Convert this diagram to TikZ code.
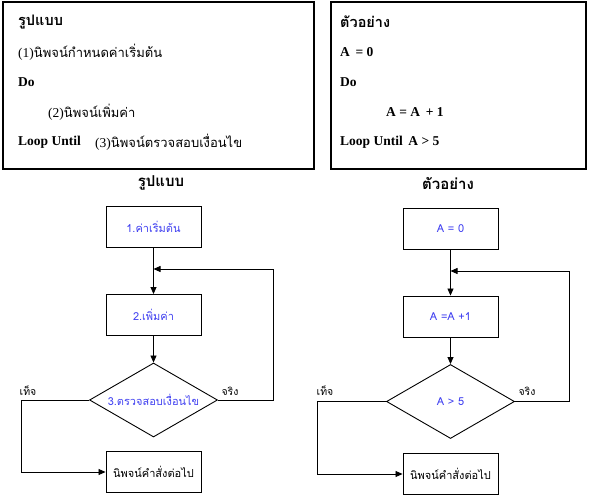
\documentclass[tikz,border=0pt]{standalone}
\usepackage{fontspec}
\setmainfont{Liberation Serif}
\newfontfamily\thai[Script=Thai]{Loma}
\usetikzlibrary{shapes.geometric,arrows.meta}
\definecolor{txtblue}{RGB}{64,64,240}
\newcommand{\thbig}{\thai\fontsize{13}{15}\selectfont}
\begin{document}
\begin{tikzpicture}[x=1pt,y=-1pt,
  panel/.style={draw,line width=1.2pt},
  conn/.style={draw,line width=0.8pt},
  arr/.style={conn,-{Triangle[length=7pt,width=6pt]}},
  box/.style={draw,line width=0.9pt,minimum width=95pt,minimum height=41pt,inner sep=0pt,
    font=\thai\fontsize{11}{13}\selectfont,text=txtblue},
  dec/.style={draw,line width=0.9pt,diamond,minimum width=128pt,minimum height=74pt,inner sep=0pt},
  dectxt/.style={font=\thai\fontsize{11}{13}\selectfont,text=txtblue,inner sep=0pt},
  code/.style={anchor=west,inner sep=0pt,font=\fontsize{13.5}{15}\selectfont},
  head/.style={anchor=west,inner sep=0pt,font=\thai\bfseries\fontsize{14.5}{16}\selectfont},
  title/.style={inner sep=0pt,font=\thai\bfseries\fontsize{15}{17}\selectfont},
  yn/.style={inner sep=0pt,font=\thai\fontsize{10.5}{12}\selectfont}]
\useasboundingbox (0,0) rectangle (594,497);
% top panels
\draw[panel] (3,2) rectangle (314,169);
\draw[panel] (331,2) rectangle (586,169);
\node[head] (lh) at (18,22) {รูปแบบ};
\node[code] (l1) at (18,52) {(1)\thbig นิพจน์กำหนดค่าเริ่มต้น};
\node[code] (l2) at (18,82) {\bfseries Do};
\node[code] (l3) at (48,112) {(2)\thbig นิพจน์เพิ่มค่า};
\node[code] (l4) at (18,142) {\bfseries Loop Until};
\node[code] (l5) at (95,142) {(3)\thbig นิพจน์ตรวจสอบเงื่อนไข};
\node[head] (rh) at (340,22) {ตัวอย่าง};
\node[code] (r1) at (340,52) {\bfseries A\, = 0};
\node[code] (r2) at (340,82) {\bfseries Do};
\node[code] (r3) at (386,112) {\bfseries A = A\, + 1};
\node[code] (r4) at (340,142) {\bfseries Loop Until\, A > 5};
% left flowchart
\node[title] (lt) at (161,183) {รูปแบบ};
\node[box] (L1) at (153.5,226.5) {1.ค่าเริ่มต้น};
\node[box] (L2) at (153.5,315) {2.เพิ่มค่า};
\node[dec,label={[dectxt]center:3.ตรวจสอบเงื่อนไข}] (Ld) at (153.5,400) {};
\node[box,text=black] (L3) at (153.5,472) {นิพจน์คำสั่งต่อไป};
\coordinate (Lj) at (153.5,269);
\coordinate (Lr) at (273,269);
\coordinate (Lf) at (21,472);
\draw[conn] (L1.south) -- (Lj);
\draw[arr] (Lj) -- (L2.north);
\draw[arr] (L2.south) -- (Ld.north);
\draw[arr] (Ld.east) -| (Lr) -- (Lj);
\draw[arr] (Ld.west) -| (Lf) -- (L3.west);
\node[yn] (Lno) at (28,391) {เท็จ};
\node[yn] (Lyes) at (230,391) {จริง};
% right flowchart
\node[title] (rt) at (448,183) {ตัวอย่าง};
\node[box] (R1) at (450.5,228.5) {A = 0};
\node[box] (R2) at (450.5,316.5) {A =A +1};
\node[dec,label={[dectxt]center:A > 5}] (Rd) at (450.5,401.5) {};
\node[box,text=black] (R3) at (450.5,474) {นิพจน์คำสั่งต่อไป};
\coordinate (Rj) at (450.5,271);
\coordinate (Rr) at (569,271);
\coordinate (Rf) at (317,474);
\draw[conn] (R1.south) -- (Rj);
\draw[arr] (Rj) -- (R2.north);
\draw[arr] (R2.south) -- (Rd.north);
\draw[arr] (Rd.east) -| (Rr) -- (Rj);
\draw[arr] (Rd.west) -| (Rf) -- (R3.west);
\node[yn] (Rno) at (325,391) {เท็จ};
\node[yn] (Ryes) at (527,391) {จริง};
\end{tikzpicture}
\end{document}
